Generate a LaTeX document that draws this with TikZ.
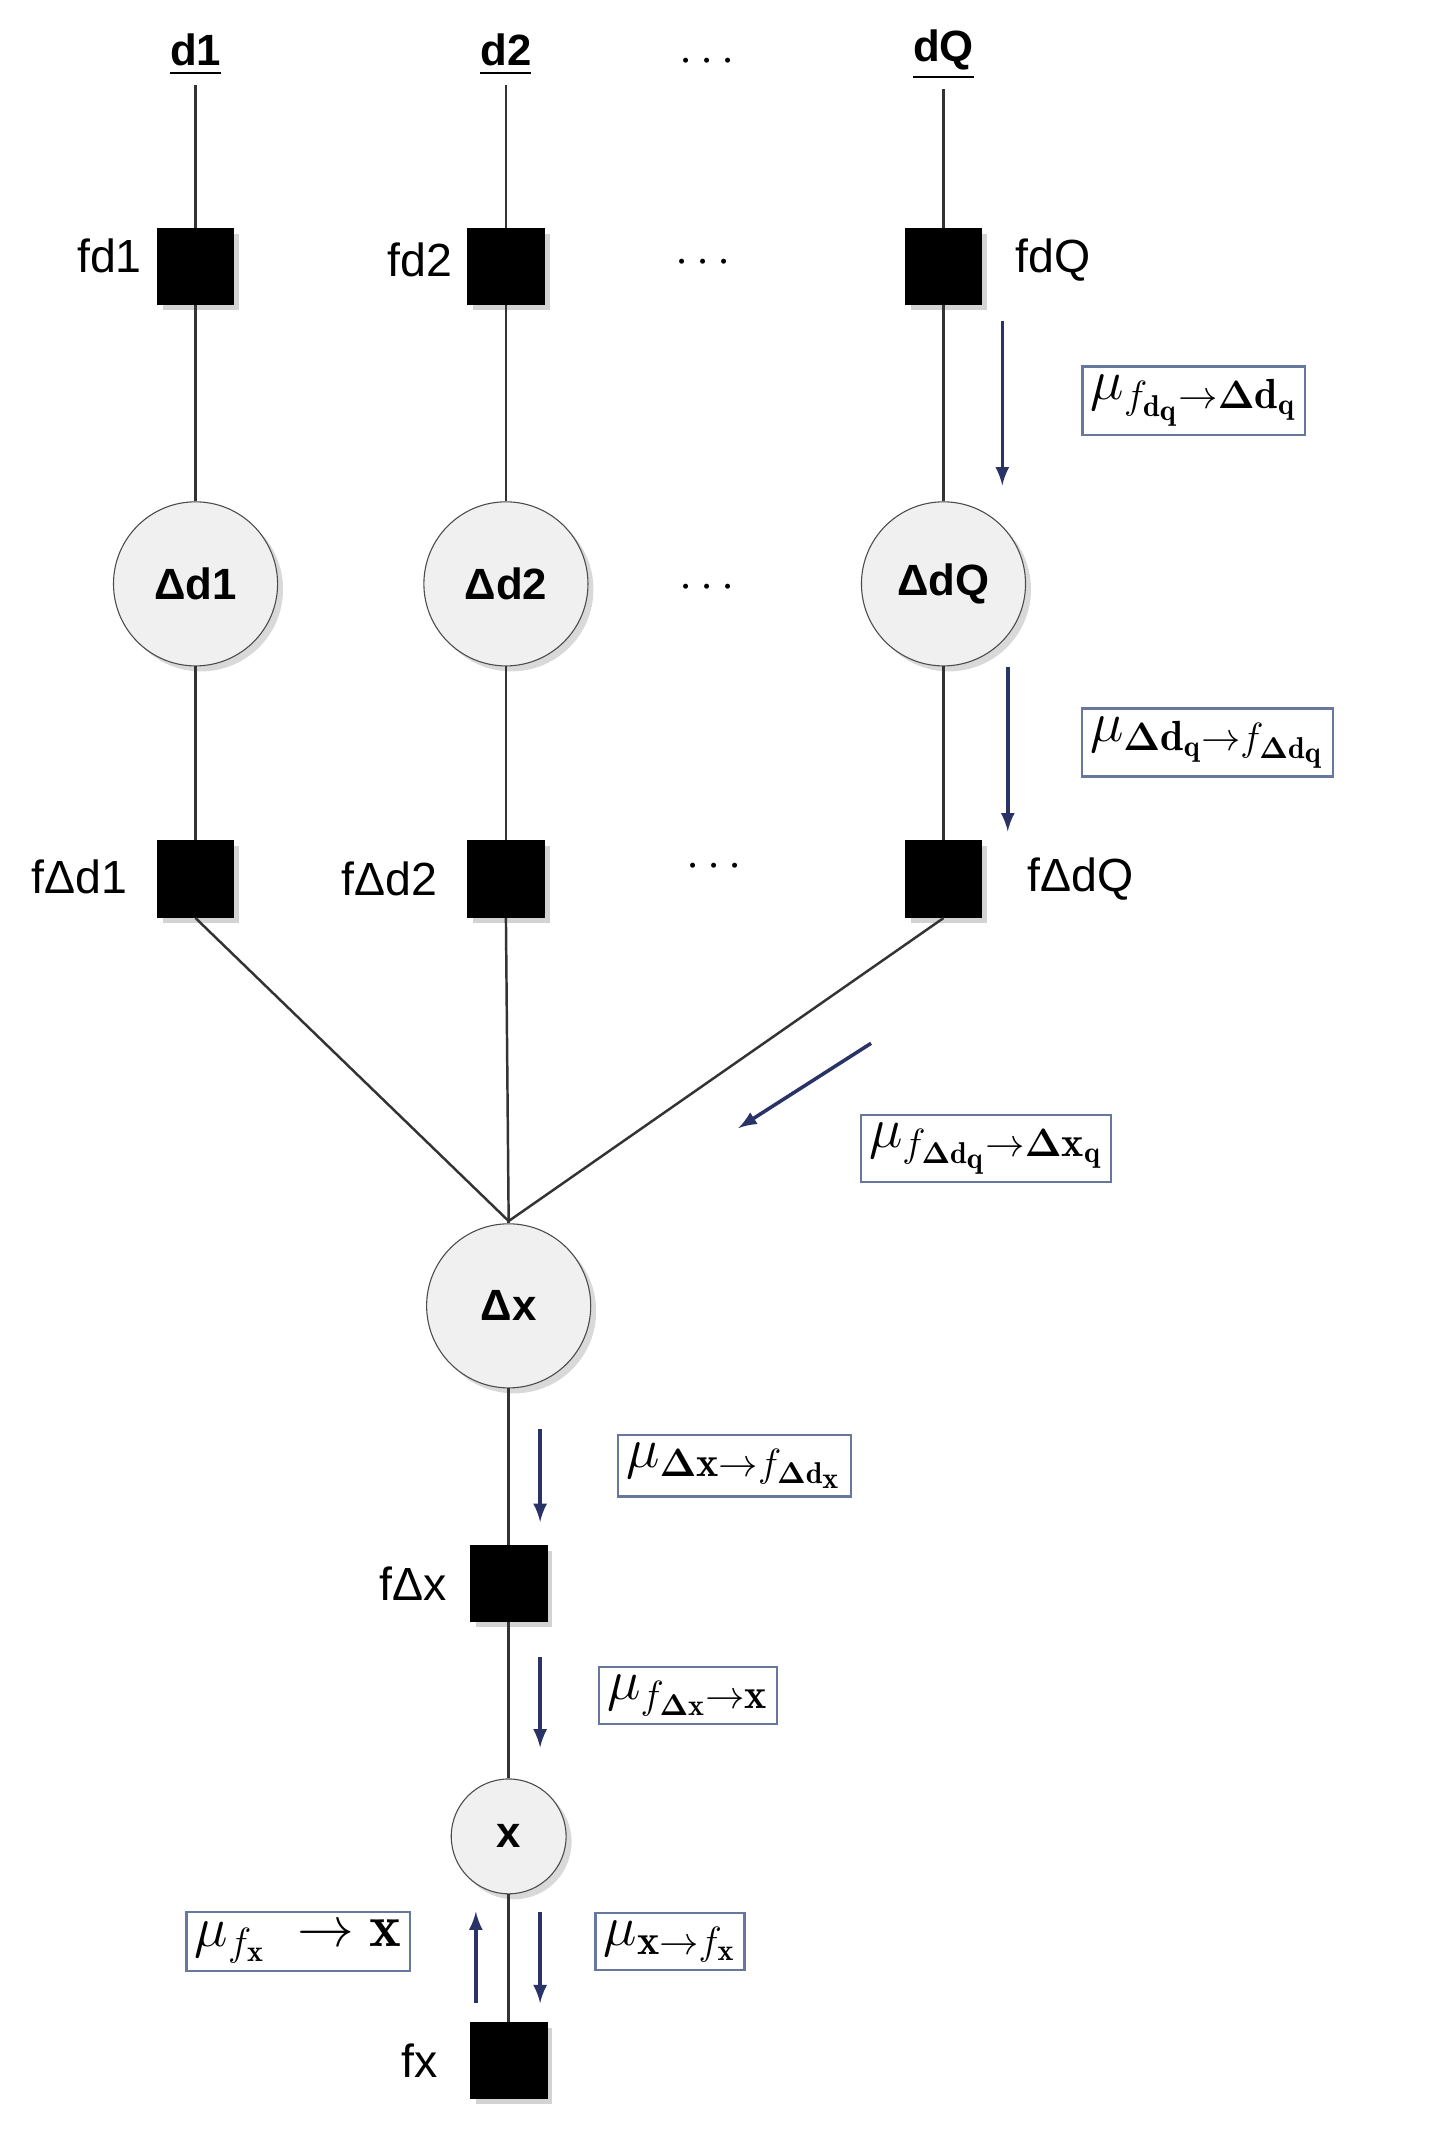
\documentclass[tikz,border=0pt]{standalone}
\usepackage{amsmath}
\usepackage{fontspec}
\newfontfamily\arialfont{Liberation Sans}
\usetikzlibrary{shadows}
\definecolor{arrowblue}{rgb}{0.16,0.2,0.4}
\definecolor{boxblue}{rgb}{0.4,0.47,0.62}
\begin{document}
\begin{tikzpicture}[x=0.5pt,y=-0.5pt,
  fac/.style={draw=black,fill=black,minimum size=28pt,inner sep=0pt,drop shadow={opacity=0.35,shadow xshift=2pt,shadow yshift=-2pt}},
  var/.style={circle,draw=black!70,fill=black!6,minimum size=60pt,inner sep=0pt,font=\arialfont\fontsize{16}{18}\selectfont\bfseries,drop shadow={opacity=0.3,shadow xshift=2pt,shadow yshift=-2pt}},
  lbl/.style={font=\arialfont\fontsize{17}{20}\selectfont},
  head/.style={font=\arialfont\fontsize{16}{18}\selectfont\bfseries},
  msg/.style={draw=boxblue,thick,fill=white,inner sep=3pt,font=\fontsize{22}{26}\selectfont},
  flow/.style={draw=arrowblue,line width=1.3pt,-latex},
  edge/.style={draw=black!80,line width=0.9pt}]
\useasboundingbox (0,0) rectangle (1048,1557);
% top variables
\node[head] (d1) at (143,40) {\underline{d1}};
\node[head] (d2) at (370,40) {\underline{d2}};
\node[head] (dQ) at (690,40) {\underline{dQ}};
% factors fd
\node[fac] (fd1) at (143,195) {};
\node[fac] (fd2) at (370,195) {};
\node[fac] (fdQ) at (690,195) {};
% delta variables
\node[var] (Dd1) at (143,427) {Δd1};
\node[var] (Dd2) at (370,427) {Δd2};
\node[var] (DdQ) at (690,427) {ΔdQ};
% factors f delta d
\node[fac] (fDd1) at (143,643) {};
\node[fac] (fDd2) at (370,643) {};
\node[fac] (fDdQ) at (690,643) {};
% lower chain
\node[var] (Dx) at (372,955) {Δx};
\node[fac] (fDx) at (372,1158) {};
\node[var,minimum size=42pt] (x) at (372,1343) {x};
\node[fac] (fx) at (372,1507) {};
\coordinate (top) at (372,893);
% edges
\draw[edge] (d1) -- (fd1) -- (Dd1) -- (fDd1);
\draw[edge] (d2) -- (fd2) -- (Dd2) -- (fDd2);
\draw[edge] (dQ) -- (fdQ) -- (DdQ) -- (fDdQ);
\draw[edge] (fDd1.south) -- (top);
\draw[edge] (fDd2.south) -- (top);
\draw[edge] (fDdQ.south) -- (top);
\draw[edge] (top) -- (Dx) -- (fDx) -- (x) -- (fx);
% factor labels
\node[lbl] at (80,187) {fd1};
\node[lbl] at (307,190) {fd2};
\node[lbl] at (770,190) {fdQ};
\node[lbl] at (58,641) {fΔd1};
\node[lbl] at (285,643) {fΔd2};
\node[lbl] at (790,643) {fΔdQ};
\node[lbl] at (302,1158) {fΔx};
\node[lbl] at (307,1507) {fx};
% dots
\node[lbl] at (520,45) {$\cdots$};
\node[lbl] at (517,192) {$\cdots$};
\node[lbl] at (520,430) {$\cdots$};
\node[lbl] at (525,634) {$\cdots$};
% messages
\coordinate (a1s) at (733,235); \coordinate (a1e) at (733,355);
\draw[flow] (a1s) -- (a1e);
\node[msg] (m1) at (873,293) {$\mu_{f_{\mathbf{d_q}}\to\boldsymbol{\Delta}\mathbf{d_q}}$};
\coordinate (a2s) at (737,488); \coordinate (a2e) at (737,608);
\draw[flow] (a2s) -- (a2e);
\node[msg] (m2) at (883,543) {$\mu_{\boldsymbol{\Delta}\mathbf{d_q}\to f_{\boldsymbol{\Delta}\mathbf{d_q}}}$};
\coordinate (a3s) at (637,763); \coordinate (a3e) at (540,825);
\draw[flow] (a3s) -- (a3e);
\node[msg] (m3) at (721,840) {$\mu_{f_{\boldsymbol{\Delta}\mathbf{d_q}}\to\boldsymbol{\Delta}\mathbf{x_q}}$};
\coordinate (a4s) at (395,1045); \coordinate (a4e) at (395,1113);
\draw[flow] (a4s) -- (a4e);
\node[msg] (m4) at (537,1072) {$\mu_{\boldsymbol{\Delta}\mathbf{x}\to f_{\boldsymbol{\Delta}\mathbf{d_x}}}$};
\coordinate (a5s) at (395,1212); \coordinate (a5e) at (395,1278);
\draw[flow] (a5s) -- (a5e);
\node[msg] (m5) at (503,1240) {$\mu_{f_{\boldsymbol{\Delta}\mathbf{x}}\to\mathbf{x}}$};
\coordinate (a6s) at (348,1465); \coordinate (a6e) at (348,1398);
\draw[flow] (a6s) -- (a6e);
\node[msg] (m6) at (218,1420) {$\mu_{f_{\mathbf{x}}}\;\to\mathbf{x}$};
\coordinate (a7s) at (395,1398); \coordinate (a7e) at (395,1465);
\draw[flow] (a7s) -- (a7e);
\node[msg] (m7) at (490,1420) {$\mu_{\mathbf{x}\to f_{\mathbf{x}}}$};
\end{tikzpicture}
\end{document}
